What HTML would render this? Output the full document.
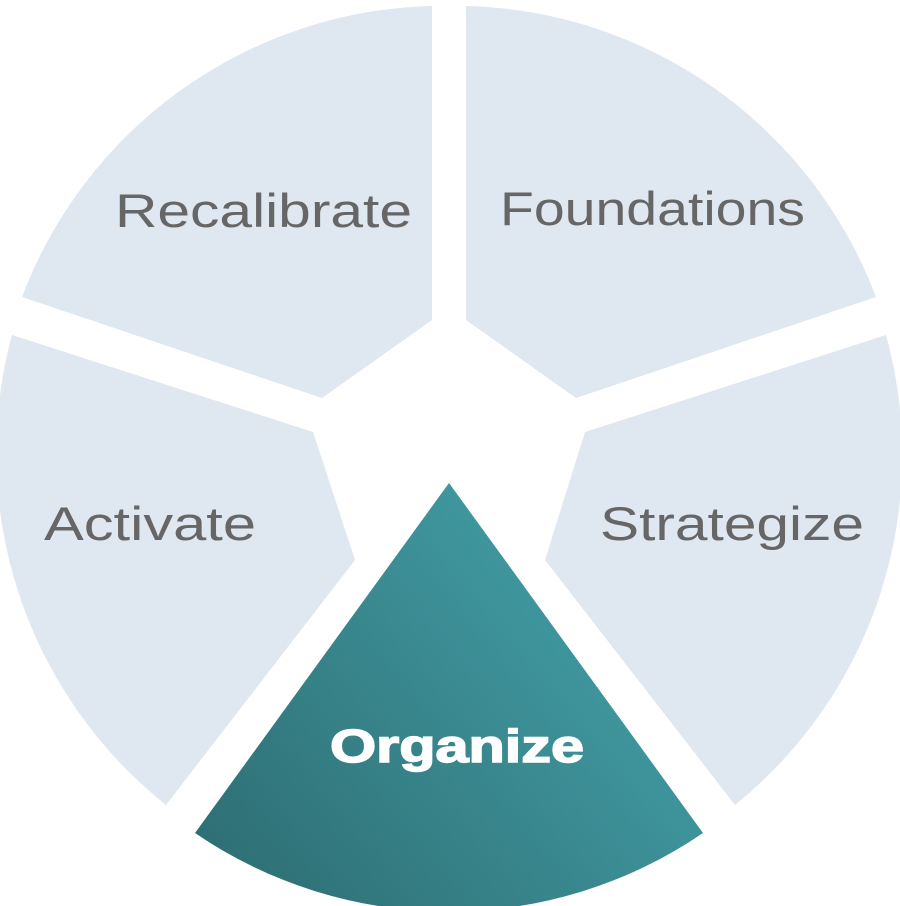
<!DOCTYPE html>
<html><head><style>
html,body{margin:0;padding:0;background:#fff;}
svg{display:block;}
text{font-family:"Liberation Sans",sans-serif;}
</style></head><body>
<svg width="900" height="906" viewBox="0 0 900 906">
<defs>
<linearGradient id="g" x1="0" y1="1" x2="1" y2="0.3">
<stop offset="0" stop-color="#2c6b70"/>
<stop offset="1" stop-color="#44a0a8"/>
</linearGradient>
</defs>
<g fill="#dfe7f0">
<path d="M22,297 A450,450 0 0 1 432,6 L432,320 L322,398 Z"/>
<path d="M466,6 A450,450 0 0 1 876,297 L576,398 L466,320 Z"/>
<path d="M886,335 A450,450 0 0 1 735,805 L545,560 L585,432 Z"/>
<path d="M166,805 A450,450 0 0 1 12,335 L313,432 L355,560 Z"/>
</g>
<path d="M703,833 A450,450 0 0 1 195,833 L449,483 Z" fill="url(#g)"/>
<g fill="#666" font-size="47" lengthAdjust="spacingAndGlyphs">
<text x="115" y="227" textLength="297" lengthAdjust="spacingAndGlyphs">Recalibrate</text>
<text x="500" y="225" textLength="305" lengthAdjust="spacingAndGlyphs">Foundations</text>
<text x="600" y="540" textLength="264" lengthAdjust="spacingAndGlyphs">Strategize</text>
<text x="44" y="540" textLength="212" lengthAdjust="spacingAndGlyphs">Activate</text>
</g>
<text x="330" y="762" fill="#fff" font-size="46" font-weight="bold" textLength="254" lengthAdjust="spacingAndGlyphs" stroke="#fff" stroke-width="1.5">Organize</text>
</svg>
</body></html>
